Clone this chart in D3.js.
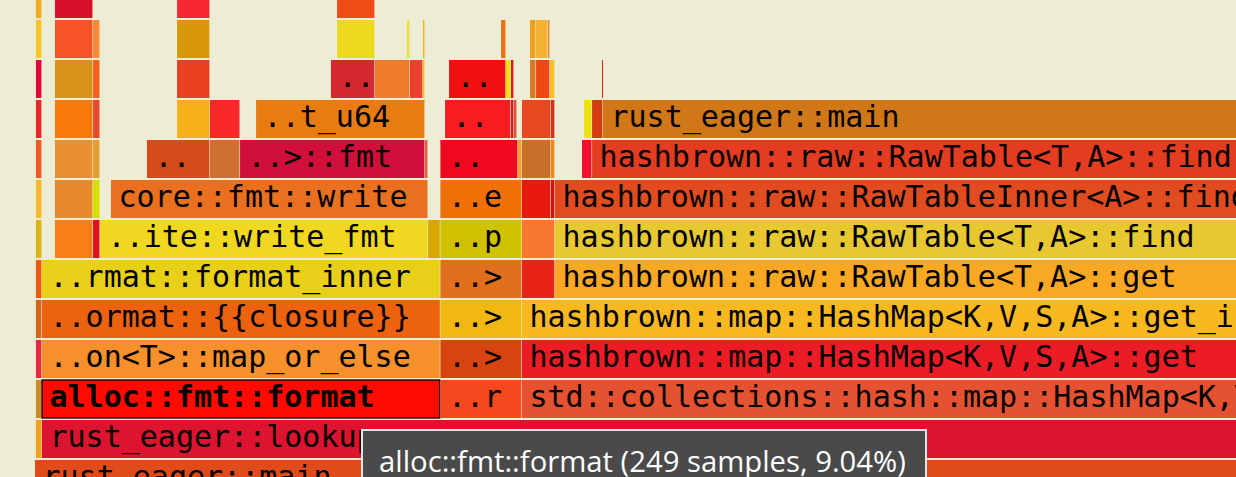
<!DOCTYPE html>
<html><head><meta charset="utf-8">
<script src="https://cdn.jsdelivr.net/npm/d3@7/dist/d3.min.js"></script>
<style>
html,body{margin:0;padding:0;background:#edecd4;overflow:hidden}
svg{display:block}
</style>
</head><body>
<svg id="chart" width="1236" height="477"></svg>
<script>
// ---- Data: flame graph frames per stack level, [startSample, endSample, label] ----
const level0  = [[-4.4,770,"rust_eager::main"]];
const level1  = [[-3.8,0,""],[0,770,"rust_eager::lookup"]];
const level2  = [[-3.8,0,""],[0,249,"alloc::fmt::format"],[249,300,"..r"],[300,770,"std::collections::hash::map::HashMap<K,V,S>::get"]];
const level3  = [[-3.8,0,""],[0,249,"..on<T>::map_or_else"],[249,300,"..>"],[300,770,"hashbrown::map::HashMap<K,V,S,A>::get"]];
const level4  = [[-3.8,0,""],[0,249,"..ormat::{{closure}}"],[249,300,"..>"],[300,770,"hashbrown::map::HashMap<K,V,S,A>::get_inner"]];
const level5  = [[-3.8,0,""],[0,249,"..rmat::format_inner"],[249,300,"..>"],[300,320.6,""],[320.6,770,"hashbrown::raw::RawTable<T,A>::get"]];
const level6  = [[-3.8,0,""],[8.1,31.9,""],[31.9,36.3,""],[36.3,241.3,"..ite::write_fmt"],[241.3,249,""],[249,300,"..p"],[300,320.6,""],[320.6,770,"hashbrown::raw::RawTable<T,A>::find"]];
const level7  = [[-3.8,0,""],[8.1,31.9,""],[31.9,36.3,""],[43.1,241.3,"core::fmt::write"],[249,300,"..e"],[300,318.1,""],[318.1,320.6,""],[320.6,770,"hashbrown::raw::RawTableInner<A>::find_inner"]];
const level8  = [[-3.8,0,""],[8.1,31.9,""],[31.9,36.3,""],[65.6,105,".."],[105,123.8,""],[123.8,239.4,"..>::fmt"],[239.4,241.3,""],[249,297.5,".."],[297.5,300,""],[300,318.1,""],[318.1,320.6,""],[337.5,343.8,""],[343.8,770,"hashbrown::raw::RawTable<T,A>::find"]];
const level9  = [[-3.8,0,""],[8.1,31.9,""],[31.9,36.3,""],[84.4,105,""],[105,123.8,""],[133.8,239.4,"..t_u64"],[251.9,293.1,".."],[293.1,295,""],[295,296.9,""],[300,318.1,""],[318.1,320.6,""],[338.8,343.8,""],[343.8,350.6,""],[350.6,770,"rust_eager::main"]];
const level10 = [[-3.8,0,""],[8.1,31.9,""],[31.9,36.3,""],[84.4,105,""],[180.6,208.1,".."],[208.1,230,""],[230,238.1,""],[238.1,239.4,""],[254.4,290,".."],[290,293.1,""],[293.1,295,""],[305,308.8,""],[308.8,317.5,""],[317.5,320.6,""],[350,351,""]];
const level11 = [[-3.8,0,""],[8.1,31.9,""],[31.9,36.3,""],[84.4,105,""],[184.4,208.1,""],[228.1,230,""],[238.1,239.4,""],[286.9,290,""],[305,308.8,""],[308.8,316.3,""],[316.3,317.5,""]];
const level12 = [[-3.8,0,""],[8.1,31.9,""],[84.4,105,""],[184.4,208.1,""]];
const levels = [level0,level1,level2,level3,level4,level5,level6,level7,level8,level9,level10,level11,level12];

// hovered frame + totals for the tooltip
const hoveredFrame = "alloc::fmt::format";
const hoveredSamples = 249;
const totalSamples = 2754;

// ---- Styles: fill colours per level (parallel to the frame arrays) ----
const colors = [
  ["#e04b1c"],
  ["#f0a01a","#dc1430"],
  ["#cc8a28","#ff0a00","#f5481e","#e55232"],
  ["#e8283a","#f5902a","#d84410","#ec1c26"],
  ["#d06418","#ec620e","#f0b810","#f8b820"],
  ["#e85c10","#e8d018","#e0701e","#e82418","#f8a822"],
  ["#d8b414","#f87e18","#e01020","#f0d820","#d8a800","#d0c200","#f87830","#e8c830"],
  ["#f8b830","#e88a2c","#d4e000","#e8701e","#f07008","#e81a10","#d81010","#e04c20"],
  ["#f05a28","#e89030","#e0a030","#d44c1c","#d07030","#d0103a","#e06040","#f00820","#f8a030","#c87028","#f08818","#f01030","#e43c20"],
  ["#e82828","#f87808","#e84830","#f5b018","#f82828","#e87c10","#f81c22","#d02020","#e05040","#e84820","#d83018","#f0e010","#d43c10","#d07818"],
  ["#e00838","#d8921a","#f86020","#e84020","#d42830","#ee7c2a","#ee4030","#f0c020","#f01010","#f0e010","#e01818","#d87828","#f04810","#f8c020","#e02020"],
  ["#f8c42a","#f85228","#f88a38","#d89808","#ecd81c","#f0e030","#f8b020","#f07010","#f0a020","#f4b030","#e08030"],
  ["#f0aa20","#d8102c","#f82830","#f04c18"]
];

const W = 1236, H = 477;
const svg = d3.select("#chart");
svg.append("rect").attr("width", W).attr("height", H).attr("fill", "#edecd4");

// zoomed view: 1.6 px per sample
const x = d3.scaleLinear().domain([-26.25, 746.25]).range([0, W]);
const y = d3.scaleLinear().domain([0, 12]).range([460, -20]);
const rowH = 38;

const frames = [];
levels.forEach((lv, d) => lv.forEach((f, i) => frames.push({depth: d, start: f[0], end: f[1], name: f[2], color: colors[d][i]})));

const g = svg.append("g");
const fg = g.selectAll("g.frame").data(frames).enter().append("g").attr("class", "frame");
fg.append("rect")
  .attr("x", f => x(f.start))
  .attr("y", f => y(f.depth))
  .attr("width", f => Math.max(x(f.end) - x(f.start) - 0.6, 1))
  .attr("height", rowH)
  .attr("fill", f => f.color)
  .attr("stroke", f => f.name === hoveredFrame ? "#000" : "none")
  .attr("stroke-width", 1.3);
fg.filter(f => f.name).append("text")
  .attr("x", f => x(f.start) + 7.5)
  .attr("y", f => y(f.depth) + 26.5)
  .attr("font-family", "'DejaVu Sans Mono', monospace")
  .attr("font-size", 30)
  .attr("font-weight", f => f.name === hoveredFrame ? "bold" : "normal")
  .attr("fill", "#000")
  .text(f => f.name);

// tooltip
const tip = svg.append("g");
tip.append("rect").attr("x", 362).attr("y", 430).attr("width", 564).attr("height", 60)
  .attr("fill", "#4a4a4a").attr("stroke", "#e6e6e6").attr("stroke-width", 2);
const tt = tip.append("text").attr("x", 379).attr("y", 472)
  .attr("font-family", "'Open Sans', 'Noto Sans', sans-serif")
  .attr("font-size", 26).attr("fill", "#fff")
  .text(`${hoveredFrame} (${hoveredSamples} samples, ${(100 * hoveredSamples / totalSamples).toFixed(2)}%)`);
const len = tt.node().getComputedTextLength();
tt.attr("font-size", 26 * 527 / len);
</script>
</body></html>
